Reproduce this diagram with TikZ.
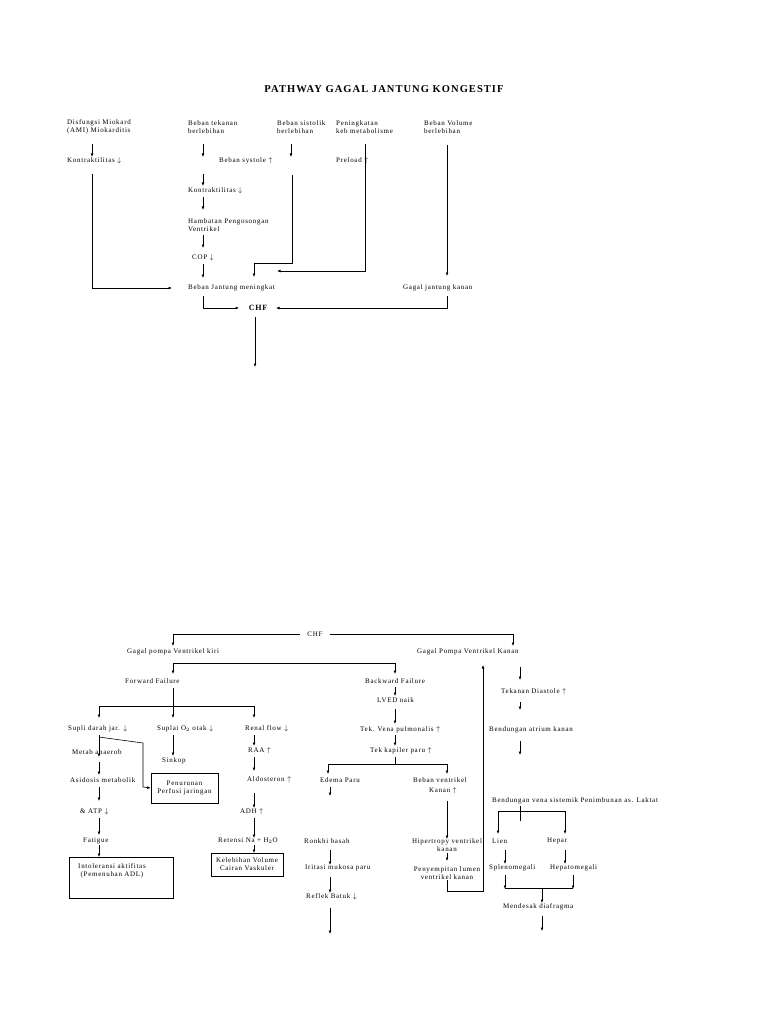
\documentclass[tikz,border=0pt]{standalone}
\usepackage{fontspec}
\setmainfont{Liberation Serif}[LetterSpace=10]
\usetikzlibrary{arrows.meta}
\begin{document}
\begin{tikzpicture}[
  x=1pt, y=-1pt,
  every node/.style={font=\fontsize{7}{8}\selectfont, inner sep=0pt, align=left},
  t/.style={anchor=west},
  arr/.style={-{Latex[length=3.5pt,width=2.8pt]}, line width=0.6pt},
  ln/.style={line width=0.6pt},
  box/.style={draw, line width=0.6pt}
]
\useasboundingbox (0,0) rectangle (768,1024);

% ---------- top part ----------
\node[font=\bfseries\fontsize{10.5}{12}\selectfont] (title) at (384,89) {PATHWAY GAGAL JANTUNG KONGESTIF};

\node[t] (dis) at (67,127) {Disfungsi Miokard\\(AMI) Miokarditis};
\node[t] (btk) at (188,127) {Beban tekanan\\berlebihan};
\node[t] (bsis) at (277,127) {Beban sistolik\\berlebihan};
\node[t] (pen) at (336,127) {Peningkatan\\keb metabolisme};
\node[t] (bvol) at (424,127) {Beban Volume\\berlebihan};

\node[t] (kon1) at (67,161) {Kontraktilitas $\downarrow$};
\node[t] (bsys) at (219,161) {Beban systole $\uparrow$};
\node[t] (pre) at (336,161) {Preload $\uparrow$};
\node[t] (kon2) at (188,191) {Kontraktilitas $\downarrow$};
\node[t] (hamb) at (188,225) {Hambatan Pengosongan\\Ventrikel};
\node[t] (cop) at (192,258) {COP $\downarrow$};
\node[t] (bjm) at (188,288) {Beban Jantung meningkat};
\node[t] (gjk) at (403,288) {Gagal jantung kanan};
\node[font=\bfseries\fontsize{8}{9}\selectfont] (chf1) at (258,308) {CHF};

\draw[arr] (92,144) -- (92,157);
\draw[arr] (203,144) -- (203,157);
\draw[arr] (291,144) -- (291,157);
\draw[arr] (203,174) -- (203,186);
\draw[arr] (203,197) -- (203,210);
\draw[arr] (203,235) -- (203,248);
\draw[arr] (203,264) -- (203,278);
\draw[arr] (92,174) -- (92,288) -- (172,288);
\draw[arr] (292,175) -- (292,263) -- (254,263) -- (254,277);
\draw[arr] (365,144) -- (365,271) -- (277,271);
\draw[arr] (447,145) -- (447,276);
\draw[arr] (203,296) -- (203,308) -- (239,308);
\draw[arr] (447,296) -- (447,308) -- (276,308);
\draw[arr] (255,317) -- (255,367);

% ---------- bottom part ----------
\node[inner xsep=7pt] (chf2) at (315,634) {CHF};
\node[t] (gpkiri) at (127,652) {Gagal pompa Ventrikel kiri};
\node[t] (gpkanan) at (417,652) {Gagal Pompa Ventrikel Kanan};
\draw[arr] (chf2.west) -- (173,634) -- (173,646);
\draw[arr] (chf2.east) -- (513,634) -- (513,646);

\node[t] (ff) at (125,681) {Forward Failure};
\node[t] (bf) at (365,681) {Backward Failure};
\draw[arr] (173,663) -- (395,663) -- (395,674);
\draw[arr] (173,663) -- (173,674);

\node[t] (lved) at (377,700) {LVED naik};
\draw[arr] (395,687) -- (395,696);

\draw[ln] (173,688) -- (173,706);
\draw[ln] (99,706) -- (254,706);
\draw[arr] (99,706) -- (99,718);
\draw[arr] (173,706) -- (173,718);
\draw[arr] (254,706) -- (254,718);

\node[t] (sdj) at (68,729) {Supli darah jar. $\downarrow$};
\node[t] (sot) at (157,729) {Suplai O$_2$ otak $\downarrow$};
\node[t] (rf) at (245,729) {Renal flow $\downarrow$};
\node[t] (tvp) at (360,730) {Tek. Vena pulmonalis $\uparrow$};
\node[t] (tkp) at (370,751) {Tek kapiler paru $\uparrow$};
\draw[arr] (395,709) -- (395,724);
\draw[arr] (395,735) -- (395,746);

\node[t] (ma) at (72,752) {Metab anaerob};
\node[t] (sink) at (162,761) {Sinkop};
\node[box, minimum width=67pt, minimum height=30pt, align=center] (ppj) at (184.5,788) {Penurunan\\Perfusi jaringan};
\draw[arr] (99,735) -- (99,757);
\draw[arr] (99,737) -- (143,743) -- (143,787) -- (ppj.west);
\draw[arr] (173,735) -- (173,756);

\node[t] (raa) at (248,751) {RAA $\uparrow$};
\node[t] (ald) at (247,780) {Aldosteron $\uparrow$};
\node[t] (adh) at (240,812) {ADH $\uparrow$};
\node[t] (ret) at (218,841) {Retensi Na + H$_2$O};
\node[box, minimum width=72pt, minimum height=23pt, align=center] (kvc) at (247,864.5) {Kelebihan Volume\\Cairan Vaskuler};
\draw[arr] (254,735) -- (254,746);
\draw[arr] (254,757) -- (254,771);
\draw[arr] (254,793) -- (254,808);
\draw[arr] (254,818) -- (254,838);
\draw[arr] (254,845) -- (254,853);

\node[t] (asi) at (70,780) {Asidosis metabolik};
\node[t] (atp) at (80,812) {\& ATP $\downarrow$};
\node[t] (fat) at (83,841) {Fatigue};
\node[box, minimum width=104pt, minimum height=41pt] (ia) at (121,877.5) {};
\node[anchor=north, align=center] (iat) at (112,863) {Intoleransi aktifitas\\(Pemenuhan ADL)};
\draw[arr] (99,762) -- (99,775);
\draw[arr] (99,787) -- (99,801);
\draw[arr] (99,818) -- (99,835);
\draw[arr] (99,845) -- (99,857);

% middle
\draw[ln] (395,757) -- (395,764);
\draw[ln] (328,764) -- (447,764);
\draw[arr] (328,764) -- (328,774);
\draw[arr] (447,764) -- (447,774);
\node[t] (ep) at (320,780) {Edema Paru};
\node[t] (bvk) at (413,780) {Beban ventrikel};
\node[t] (bvk2) at (429,791) {Kanan $\uparrow$};
\draw[arr] (330,787) -- (330,796);

\node[t] (rb) at (304,841) {Ronkhi basah};
\node[t] (imp) at (305,868) {Iritasi mukosa paru};
\node[t] (rbt) at (306,897) {Reflek Batuk $\downarrow$};
\draw[arr] (330,850) -- (330,865);
\draw[arr] (330,877) -- (330,893);
\draw[arr] (330,908) -- (330,934);

\node[align=center] (hvk) at (447,845) {Hipertropy ventrikel\\kanan};
\node[align=center] (plv) at (447,873) {Penyempitan lumen\\ventrikel kanan};
\draw[arr] (447,801) -- (447,839);
\draw[arr] (447,853) -- (447,861);
\draw[arr] (447,880) -- (447,891) -- (483,891) -- (483,665);

% right column
\node[t] (tdi) at (501,692) {Tekanan Diastole $\uparrow$};
\node[t] (bak) at (489,730) {Bendungan atrium kanan};
\node[t] (bvs) at (492,801) {Bendungan vena sistemik Penimbunan as. Laktat};
\draw[arr] (520,667) -- (520,680);
\draw[arr] (520,702) -- (520,710);
\draw[arr] (520,741) -- (520,755);

\draw[ln] (520,806) -- (520,821);
\draw[ln] (498,811) -- (565,811);
\draw[arr] (498,811) -- (498,834);
\draw[arr] (565,811) -- (565,834);
\node[t] (lien) at (492,841) {Lien};
\node[t] (hep) at (547,841) {Hepar};
\draw[arr] (505,850) -- (505,864);
\draw[arr] (565,850) -- (565,864);
\node[t] (spl) at (489,868) {Splenomegali};
\node[t] (hpm) at (550,868) {Hepatomegali};
\draw[arr] (505,875) -- (505,889);
\draw[arr] (573,875) -- (573,889);
\draw[ln] (505,888) -- (573,888);
\draw[arr] (542,888) -- (542,903);
\node[t] (mdf) at (503,907) {Mendesak diafragma};
\draw[arr] (542,916) -- (542,931);
\end{tikzpicture}
\end{document}
